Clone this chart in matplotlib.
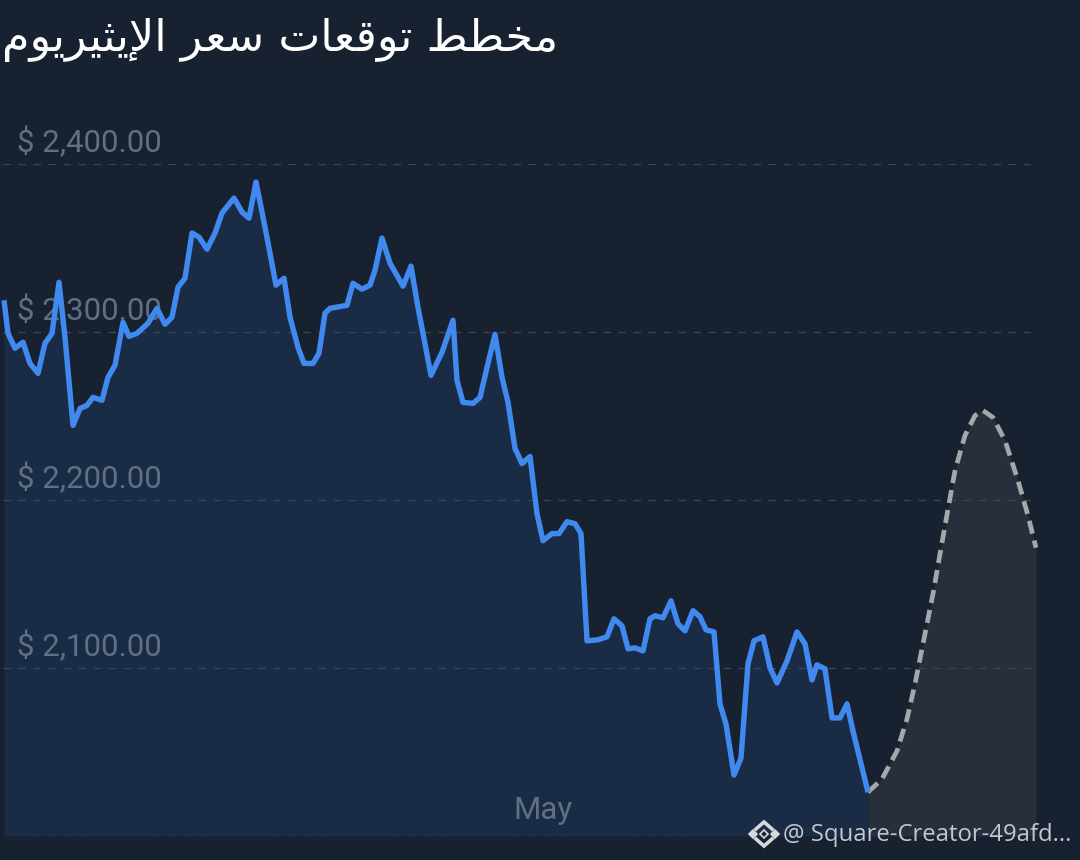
import matplotlib
matplotlib.use('Agg')
import matplotlib.pyplot as plt
from matplotlib.lines import Line2D
from matplotlib.transforms import ScaledTranslation

title = 'مخطط توقعات سعر الإيثيريوم'
y_ticks = [2000, 2100, 2200, 2300, 2400]
y_tick_labels = ['', '$ 2,100.00', '$ 2,200.00', '$ 2,300.00', '$ 2,400.00']
x_ticks = [543]
x_tick_labels = ['May']

# time runs along the axis in arbitrary steps
history_t = [4, 8, 15, 23, 30, 38, 45, 52, 59, 65, 73, 80, 87, 93, 102, 108, 115, 123, 129, 137,
             148, 157, 165, 172, 178, 185, 192, 199, 207, 215, 222, 234, 242, 249, 256, 263, 270, 276, 284, 290,
             298, 304, 313, 319, 325, 330, 347, 353, 362, 370, 375, 382, 390, 403, 411, 418, 431, 442, 453, 457,
             463, 473, 480, 488, 495, 502, 508, 515, 522, 530, 537, 543, 552, 559, 567, 575, 581, 587, 598, 607,
             614, 622, 628, 635, 643, 650, 655, 663, 671, 678, 685, 693, 700, 706, 714, 720, 726, 734, 741, 748,
             754, 763, 770, 777, 787, 797, 805, 812, 817, 825, 832, 840, 847, 853, 868]
history_price = [2318.9, 2299.2, 2290.3, 2293.9, 2281.3, 2275.4, 2293.3, 2299.2, 2329.6, 2296.8,
                 2244.4, 2254.5, 2256.3, 2261.1, 2259.3, 2273.0, 2280.2, 2305.8, 2297.4, 2299.2,
                 2305.2, 2314.1, 2304.6, 2308.8, 2326.7, 2332.0, 2358.9, 2356.5, 2349.3, 2358.9,
                 2370.8, 2379.7, 2371.4, 2367.8, 2389.3, 2368.4, 2346.9, 2327.9, 2332.0, 2308.8,
                 2290.9, 2281.3, 2281.3, 2287.3, 2311.2, 2314.1, 2315.9, 2329.0, 2325.5, 2327.9,
                 2336.8, 2355.9, 2341.0, 2327.3, 2339.2, 2314.7, 2274.2, 2287.9, 2307.0, 2271.2,
                 2258.1, 2257.5, 2261.1, 2281.3, 2298.6, 2273.0, 2258.1, 2230.7, 2221.7, 2225.9,
                 2191.9, 2175.8, 2180.0, 2180.0, 2187.1, 2185.9, 2180.0, 2116.2, 2116.8, 2118.6,
                 2129.3, 2125.1, 2111.4, 2112.0, 2110.2, 2129.3, 2131.1, 2129.9, 2140.0, 2126.3,
                 2122.1, 2134.1, 2130.5, 2122.7, 2121.5, 2078.6, 2066.7, 2036.3, 2046.4, 2102.5,
                 2116.2, 2118.6, 2100.1, 2091.1, 2104.2, 2121.5, 2114.4, 2092.9, 2101.9, 2099.5,
                 2070.3, 2070.3, 2078.6, 2062.5, 2026.1]
forecast_t = [868, 882, 897, 907, 915, 923, 933, 945, 955, 965, 975, 983, 993, 1005, 1018, 1028, 1036]
forecast_price = [2026.1, 2033.9, 2050.6, 2069.7, 2090.5, 2114.4, 2144.2, 2184.7, 2217.5, 2238.4,
                  2250.3, 2253.3, 2249.1, 2235.4, 2211.6, 2190.7, 2171.6]

bg = '#18212f'

# matplotlib does no Arabic joining, so pick the presentation forms by hand
forms = {
    'م': 'ﻡﻢﻣﻤ', 'خ': 'ﺥﺦﺧﺨ', 'ط': 'ﻁﻂﻃﻄ', 'ت': 'ﺕﺖﺗﺘ', 'ق': 'ﻕﻖﻗﻘ',
    'ع': 'ﻉﻊﻋﻌ', 'س': 'ﺱﺲﺳﺴ', 'ل': 'ﻝﻞﻟﻠ', 'ي': 'ﻱﻲﻳﻴ', 'ث': 'ﺙﺚﺛﺜ',
    'و': 'ﻭﻮ', 'ا': 'ﺍﺎ', 'ر': 'ﺭﺮ', 'إ': 'ﺇﺈ',
}

def shape(text):
    text = text.replace('لإ', '\ufef9')
    out = []
    for i, ch in enumerate(text):
        if ch not in forms:
            out.append(ch)
            continue
        prev = text[i - 1] if i > 0 else ' '
        nxt = text[i + 1] if i < len(text) - 1 else ' '
        joins_prev = prev in forms and len(forms[prev]) == 4
        joins_next = (nxt in forms or nxt == '\ufef9') and len(forms[ch]) == 4
        f = forms[ch]
        if joins_prev and joins_next:
            out.append(f[3])
        elif joins_prev:
            out.append(f[1])
        elif joins_next:
            out.append(f[2])
        else:
            out.append(f[0])
    return ''.join(reversed(out))

W, H = 1080, 860
fig = plt.figure(figsize=(W / 100, H / 100), dpi=100, facecolor=bg)
ax = fig.add_axes([3 / W, (H - 836) / H, 1033 / W, 672 / H], facecolor=bg)

ax.fill_between(history_t, history_price, 2000, color='#1a2b46', lw=0, zorder=0.3)
ax.fill_between(forecast_t, forecast_price, 2000, color='#272f3c', lw=0, zorder=0.3)
ax.plot(forecast_t, forecast_price, color='#a5a7aa', lw=3.4, dashes=(2.8, 1.5), zorder=2, clip_on=False)
ax.plot(history_t, history_price, color='#4089ee', lw=3.9, solid_joinstyle='round',
        solid_capstyle='butt', zorder=3, clip_on=False)

ax.set_xlim(3, 1036)
ax.set_ylim(2000, 2400)
ax.set_axisbelow(True)
ax.set_yticks(y_ticks)
ax.set_yticklabels(y_tick_labels, fontfamily='Roboto', fontsize=22.5, color='#5f6f84')
ax.set_xticks(x_ticks)
ax.set_xticklabels(x_tick_labels, fontfamily='Roboto', fontsize=22.5, color='#5f6f84')
ax.tick_params(axis='y', length=0, pad=-10)
ax.tick_params(axis='x', length=0, pad=-29)
up = ScaledTranslation(0, 4.5 / 72, fig.dpi_scale_trans)
for lab in ax.get_yticklabels():
    lab.set_ha('left')
    lab.set_va('bottom')
    lab.set_transform(lab.get_transform() + up)
ax.grid(axis='y', color='#3a4555', lw=0.9, dashes=(6, 6))
ax.grid(axis='x', visible=False)
for s in ax.spines.values():
    s.set_visible(False)

fig.text(558 / W, 1 - 40 / H, shape(title), ha='right', va='center', color='white',
         fontsize=32, fontfamily='DejaVu Sans')

# watermark
fig.text(783 / W, 1 - 835 / H, '@ Square-Creator-49afd...', ha='left', va='center',
         color='#c3c8ce', fontsize=17.2, fontfamily='Open Sans')
icon_x, icon_y = 764, 834
icon_color = '#d5d8dc'
for dx, fill in [(0, bg), (-11, icon_color), (11, icon_color)]:
    fig.add_artist(Line2D([(icon_x + dx) / W], [1 - icon_y / H], marker='D', ms=3.6,
                          mfc=fill, mec=icon_color, mew=1.2, ls='none'))
for sign in (-1, 1):
    xs = [(icon_x + dx) / W for dx in (-8, 0, 8)]
    ys = [1 - (icon_y + sign * dy) / H for dy in (5, 12, 5)]
    fig.add_artist(Line2D(xs, ys, color=icon_color, lw=2.6, solid_joinstyle='miter'))

fig.savefig('out.png', dpi=100, facecolor=bg)
